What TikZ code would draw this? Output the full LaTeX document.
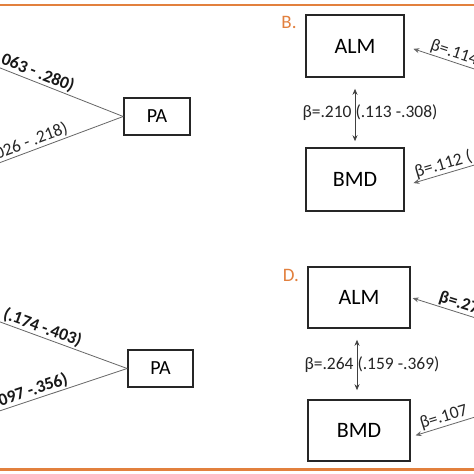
\documentclass[tikz,border=0pt]{standalone}
\usepackage{fontspec}
\setmainfont{Carlito}
\usetikzlibrary{arrows.meta}
\definecolor{orng}{RGB}{226,128,62}
\begin{document}
\begin{tikzpicture}[x=1pt,y=-1pt,
  box/.style={draw=black!85, line width=1.6pt, inner sep=0pt, font=\fontsize{22}{22}\selectfont},
  pabox/.style={box, font=\fontsize{20}{20}\selectfont},
  conn/.style={draw=black!60, line width=0.8pt},
  tipl/.style={conn, {Stealth[length=6pt,width=5pt]}-},
  dbl/.style={draw=black!75, line width=0.8pt, {Stealth[length=6pt,width=5pt]}-{Stealth[length=6pt,width=5pt]}},
  lab/.style={font=\fontsize{17.5}{18}\selectfont, inner sep=1pt, text=black!85},
  labb/.style={font=\fontsize{17.5}{18}\selectfont\bfseries, inner sep=1pt, text=black!90},
  panel/.style={font=\fontsize{19}{19}\selectfont, text=orng, inner sep=0pt},
  sepline/.style={draw=orng, line width=2.2pt}
]
\useasboundingbox (0,0) rectangle (474,474);
\clip (0,0) rectangle (474,474);
\fill[white] (0,0) rectangle (474,474);

% separator lines
\coordinate (t1) at (0,5);
\coordinate (t2) at (474,5);
\coordinate (u1) at (0,469.5);
\coordinate (u2) at (474,469.5);
\draw[sepline] (t1) -- (t2);
\draw[sepline] (u1) -- (u2);

% ---------- panel A ----------
\node[pabox, minimum width=66pt, minimum height=37pt] (paA) at (157,116.5) {PA};
\coordinate (a1) at (-100,28.5);
\coordinate (a2) at (-100,200);
\draw[conn] (a1) -- (paA.west)
  node[pos=0.768, sloped, anchor=south east, labb] {(.063 - .280)};
\draw[conn] (a2) -- (paA.west)
  node[pos=0.768, sloped, anchor=south east, lab] {(.026 - .218)};

% ---------- panel C ----------
\node[pabox, minimum width=65pt, minimum height=37pt] (paC) at (160.5,368.5) {PA};
\coordinate (c1) at (-100,285.3);
\coordinate (c2) at (-100,444);
\draw[conn] (c1) -- (paC.west)
  node[pos=0.789, sloped, anchor=south east, labb] {(.174 -.403)};
\draw[conn] (c2) -- (paC.west)
  node[pos=0.754, sloped, anchor=south east, labb] {(.097 -.356)};

% ---------- panel B ----------
\node[panel] (lB) at (289,22) {B.};
\node[box, minimum width=98pt, minimum height=62pt] (almB) at (355,46) {ALM};
\node[box, minimum width=98pt, minimum height=63pt] (bmdB) at (355,179.5) {BMD};
\node[lab] (rB) at (370,113) {β=.210 (.113 -.308)};
\draw[dbl, shorten <=11pt, shorten >=6pt] (almB.south) -- (bmdB.north);
\coordinate (b1) at (574,102);
\coordinate (b2) at (574,135.5);
\draw[tipl, shorten <=9pt] (almB.east) -- (b1)
  node[pos=0.13, sloped, anchor=south west, lab] {β=.114};
\draw[tipl, shorten <=9pt] (bmdB.-7) -- (b2)
  node[pos=0.07, sloped, anchor=south west, lab] {β=.112 (};

% ---------- panel D ----------
\node[panel] (lD) at (291,275) {D.};
\node[box, minimum width=102pt, minimum height=61pt] (almD) at (359,297.5) {ALM};
\node[box, minimum width=102pt, minimum height=61pt] (bmdD) at (359,430.5) {BMD};
\node[lab] (rD) at (372,365) {β=.264 (.159 -.369)};
\draw[dbl, shorten <=11pt, shorten >=9pt] ([xshift=-2pt]almD.south) -- ([xshift=-2pt]bmdD.north);
\coordinate (d1) at (574,349);
\coordinate (d2) at (574,386.5);
\draw[tipl, shorten <=2pt] (almD.east) -- (d1)
  node[pos=0.152, sloped, anchor=south west, labb] {β=.27};
\draw[tipl, shorten <=5pt] (bmdD.-7) -- (d2)
  node[pos=0.067, sloped, anchor=south west, lab] {β=.107};
\end{tikzpicture}
\end{document}
